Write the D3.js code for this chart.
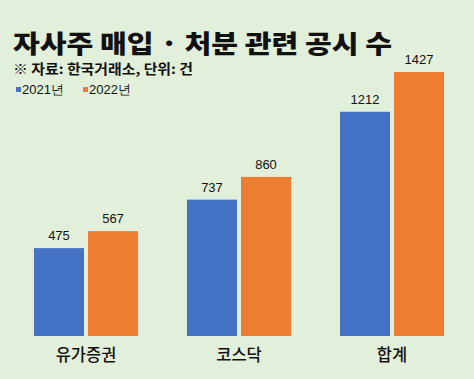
<!DOCTYPE html>
<html><head><meta charset="utf-8">
<script src="https://cdn.jsdelivr.net/npm/d3@7"></script>
<style>
html,body{margin:0;padding:0;background:#e2efda;}
svg{display:block;}
</style></head>
<body>
<script>
const categories = ["유가증권", "코스닥", "합계"];
const seriesNames = ["2021년", "2022년"];
const values2021 = [475, 737, 1212];
const values2022 = [567, 860, 1427];
const colors = ["#4472c4", "#ed7d31"];

const W = 474, H = 379;
const svg = d3.select("body").append("svg").attr("width", W).attr("height", H);
svg.append("rect").attr("width", W).attr("height", H).attr("fill", "#e2efda");

const KR = "'Noto Sans CJK KR','Noto Sans',sans-serif";
const NUM = "'Liberation Sans',Arial,sans-serif";

svg.append("text").attr("x", 13).attr("y", 53)
  .attr("font-family", KR).attr("font-weight", 900).attr("font-size", 25.5)
  .attr("textLength", 379).attr("lengthAdjust", "spacingAndGlyphs")
  .attr("fill", "#111").text("자사주 매입 · 처분 관련 공시 수");
svg.append("text").attr("x", 13).attr("y", 74)
  .attr("font-family", KR).attr("font-weight", 700).attr("font-size", 13.5)
  .attr("textLength", 180).attr("lengthAdjust", "spacingAndGlyphs")
  .attr("fill", "#111").text("※ 자료: 한국거래소, 단위: 건");

// legend
const legX = [16, 83];
seriesNames.forEach((s, i) => {
  svg.append("rect").attr("x", legX[i]).attr("y", 87).attr("width", 5).attr("height", 5).attr("fill", colors[i]);
  svg.append("text").attr("x", legX[i] + 6).attr("y", 94)
    .attr("font-family", NUM).attr("font-size", 13).attr("fill", "#111").text(s);
});

const data = categories.map((c, i) => ({cat: c, vals: [values2021[i], values2022[i]]}));

const x0 = d3.scaleBand().domain(categories).range([9.5, 468.5]).paddingInner(0.32).paddingOuter(0.16);
const x1 = d3.scaleBand().domain(seriesNames).range([0, x0.bandwidth()]).paddingInner(0.074);
const y = d3.scaleLinear().domain([0, 1427]).range([336, 72]);

const g = svg.selectAll("g.grp").data(data).join("g").attr("class", "grp")
  .attr("transform", d => `translate(${x0(d.cat)},0)`);

g.selectAll("rect").data(d => d.vals.map((v, i) => ({v, s: seriesNames[i], i})))
  .join("rect")
  .attr("x", d => x1(d.s)).attr("y", d => y(d.v))
  .attr("width", x1.bandwidth()).attr("height", d => y(0) - y(d.v))
  .attr("fill", d => colors[d.i]);

g.selectAll("text.val").data(d => d.vals.map((v, i) => ({v, s: seriesNames[i], i})))
  .join("text").attr("class", "val")
  .attr("x", d => x1(d.s) + x1.bandwidth() / 2).attr("y", d => y(d.v) - 8)
  .attr("text-anchor", "middle").attr("font-family", NUM).attr("font-size", 13)
  .attr("fill", "#111").text(d => d.v);

// category axis labels
const xAxis = d3.axisBottom(x0).tickSize(0).tickPadding(0);
const ax = svg.append("g").attr("transform", "translate(0,336)").call(xAxis);
ax.select(".domain").remove();
ax.selectAll("text").attr("dy", 0).attr("y", 25)
  .attr("font-family", KR).attr("font-weight", 500).attr("font-size", 16.5).attr("fill", "#111");
</script>
</body></html>
